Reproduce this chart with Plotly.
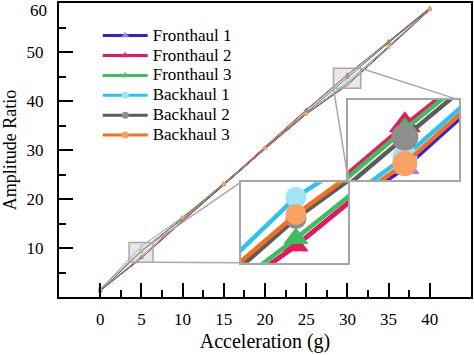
import plotly.graph_objects as go

# ---------------- data ----------------
accel = [0, 5, 10, 15, 20, 25, 30, 35, 40]
fronthaul_1 = [1.3, 7.95, 15.5, 22.9, 30.2, 37.3, 43.25, 50.9, 58.6]
fronthaul_2 = [1.3, 7.95, 15.5, 23.0, 30.5, 38.2, 45.4, 52.2, 59.0]
fronthaul_3 = [1.3, 8.3, 15.7, 23.0, 30.4, 38.0, 45.2, 52.1, 58.9]
backhaul_1 = [1.5, 10.36, 16.3, 23.2, 30.3, 37.5, 43.8, 51.3, 58.7]
backhaul_2 = [1.2, 9.3, 16.0, 23.1, 30.4, 37.6, 44.8, 51.9, 58.8]
backhaul_3 = [1.6, 9.5, 16.2, 23.1, 30.3, 37.4, 43.45, 51.1, 58.7]

names = ["Fronthaul 1", "Fronthaul 2", "Fronthaul 3",
         "Backhaul 1", "Backhaul 2", "Backhaul 3"]
series = [fronthaul_1, fronthaul_2, fronthaul_3, backhaul_1, backhaul_2, backhaul_3]

x_ticks = [0, 5, 10, 15, 20, 25, 30, 35, 40]
x_minor = [2.5, 7.5, 12.5, 17.5, 22.5, 27.5, 32.5, 37.5]
y_ticks = [10, 20, 30, 40, 50, 60]
y_minor = [5, 15, 25, 35, 45, 55]

# ---------------- styles ----------------
line_colors = ["#3d1fc9", "#e8185f", "#3dbd5c", "#2fc2ef", "#5c5c5c", "#f36f1f"]
marker_colors = ["#8f80f5", "#ea2466", "#48c26a", "#a0e4f8", "#8e8e8e", "#f9a264"]
symbols = ["triangle-up"] * 3 + ["circle"] * 3

X_RANGE = [-5, 45]
Y_RANGE = [0, 60]
INSET1_X = [3.51, 6.41]
INSET1_Y = [7.1, 11.1]
INSET2_X = [28.31, 31.62]
INSET2_Y = [42.6, 46.7]
INSET1_DOM_X = [0.4407, 0.7022]
INSET1_DOM_Y = [0.1166, 0.3902]
INSET2_DOM_X = [0.7022, 0.9709]
INSET2_DOM_Y = [0.397, 0.6706]

FONT = "Liberation Serif"

fig = go.Figure()

# main plot traces
for nm, vals, lc, mc, sym in zip(names, series, line_colors, marker_colors, symbols):
    fig.add_trace(go.Scatter(
        x=accel, y=vals, mode="lines+markers", showlegend=False,
        line=dict(color=lc, width=1),
        marker=dict(symbol=sym, size=4, color=mc),
        xaxis="x", yaxis="y", hoverinfo="skip"))

# inset traces
inset_sizes_1 = [22, 22, 22, 21, 21, 21]
inset_sizes_2 = [26, 28, 24, 25, 27, 25]
for ax, sizes in (("2", inset_sizes_1), ("3", inset_sizes_2)):
    for nm, vals, lc, mc, sym, sz in zip(names, series, line_colors, marker_colors, symbols, sizes):
        fcol = lc if sym == "triangle-up" and nm != "Fronthaul 1" else mc
        fig.add_trace(go.Scatter(
            x=accel, y=vals, mode="lines+markers", showlegend=False,
            line=dict(color=lc, width=4.5),
            marker=dict(symbol=sym, size=sz, color=fcol, line=dict(width=0)),
            xaxis="x" + ax, yaxis="y" + ax, hoverinfo="skip"))

# legend entries
for nm, lc, mc, sym in zip(names, line_colors, marker_colors, symbols):
    fig.add_trace(go.Scatter(
        x=[None], y=[None], mode="lines+markers",
        name="<span style='font-size:17px;font-family:Liberation Serif'>%s</span>" % nm,
        line=dict(color=lc, width=3),
        marker=dict(symbol=sym, size=7, color=mc),
        xaxis="x", yaxis="y"))

axis_font = dict(family=FONT, size=17, color="black")

fig.update_layout(
    width=474, height=355,
    margin=dict(l=59, r=2, t=1, b=58),
    paper_bgcolor="white", plot_bgcolor="white",
    font=dict(family=FONT, color="black"),
    showlegend=True,
    legend=dict(x=0.094, y=0.94, xanchor="left", yanchor="top",
                bgcolor="rgba(0,0,0,0)", borderwidth=0,
                font=dict(family=FONT, size=13, color="black"),
                itemwidth=45),
    xaxis=dict(range=X_RANGE, domain=[0, 1], tickvals=x_ticks,
               ticks="inside", ticklen=14, tickwidth=1.6, tickcolor="black",
               minor=dict(tickvals=x_minor, ticks="inside", ticklen=7, tickwidth=1.6, tickcolor="black"),
               showline=True, linewidth=2, linecolor="black", mirror=True,
               showgrid=False, zeroline=False, tickfont=axis_font,
               ticklabelstandoff=6,
               title=dict(text="Acceleration (g)", font=dict(family=FONT, size=20), standoff=6)),
    yaxis=dict(range=Y_RANGE, domain=[0, 1], tickvals=y_ticks,
               ticktext=["10", "20", "30", "40", "50", ""],
               ticks="inside", ticklen=14, tickwidth=1.6, tickcolor="black",
               minor=dict(tickvals=y_minor, ticks="inside", ticklen=7, tickwidth=1.6, tickcolor="black"),
               showline=True, linewidth=2, linecolor="black", mirror=True,
               showgrid=False, zeroline=False, tickfont=axis_font,
               ticklabelstandoff=10,
               title=dict(text="Amplitude Ratio", font=dict(family=FONT, size=18), standoff=6)),
)

inset_axis = dict(showticklabels=False, ticks="", showgrid=False, zeroline=False,
                  showline=True, linewidth=1.5, linecolor="#a6a6a6", mirror=True)
fig.update_layout(
    xaxis2=dict(range=INSET1_X, domain=INSET1_DOM_X, anchor="y2", **inset_axis),
    yaxis2=dict(range=INSET1_Y, domain=INSET1_DOM_Y, anchor="x2", **inset_axis),
    xaxis3=dict(range=INSET2_X, domain=INSET2_DOM_X, anchor="y3", **inset_axis),
    yaxis3=dict(range=INSET2_Y, domain=INSET2_DOM_Y, anchor="x3", **inset_axis),
)

# helper: paper fraction -> main data coordinates
def px_to_x(f):
    return X_RANGE[0] + f * (X_RANGE[1] - X_RANGE[0])

def py_to_y(f):
    return Y_RANGE[0] + f * (Y_RANGE[1] - Y_RANGE[0])

shapes = []
for ax in ("2", "3"):
    shapes.append(dict(type="rect", xref="x%s domain" % ax, yref="y%s domain" % ax,
                       x0=0, x1=1, y0=0, y1=1, fillcolor="#f9f9f9",
                       line=dict(width=0), layer="below"))
conn = dict(color="#a8a8a8", width=1.5)
for rx, ry in ((INSET1_X, INSET1_Y), (INSET2_X, INSET2_Y)):
    shapes.append(dict(type="rect", xref="x", yref="y", x0=rx[0], x1=rx[1], y0=ry[0], y1=ry[1],
                       fillcolor="rgba(190,190,190,0.35)", line=conn, layer="above"))
shapes.append(dict(type="line", xref="x", yref="y", x0=INSET1_X[1], y0=INSET1_Y[1],
                   x1=px_to_x(INSET1_DOM_X[0]), y1=py_to_y(INSET1_DOM_Y[1]), line=conn))
shapes.append(dict(type="line", xref="x", yref="y", x0=INSET1_X[1], y0=INSET1_Y[0],
                   x1=px_to_x(INSET1_DOM_X[0]), y1=py_to_y(INSET1_DOM_Y[0]), line=conn))
shapes.append(dict(type="line", xref="x", yref="y", x0=INSET2_X[1], y0=INSET2_Y[1],
                   x1=px_to_x(INSET2_DOM_X[1]), y1=py_to_y(INSET2_DOM_Y[1]), line=conn))
shapes.append(dict(type="line", xref="x", yref="y", x0=INSET2_X[0], y0=INSET2_Y[0],
                   x1=px_to_x(INSET2_DOM_X[0]), y1=py_to_y(INSET2_DOM_Y[0]), line=conn))
fig.update_layout(shapes=shapes)

fig.add_annotation(text="60", xref="paper", x=0, xanchor="right", xshift=-10,
                   yref="y", y=60, yanchor="top", yshift=4, showarrow=False,
                   font=axis_font)

fig.write_html("out.html", config={"displayModeBar": False},
               post_script="document.body.style.margin='0';")
